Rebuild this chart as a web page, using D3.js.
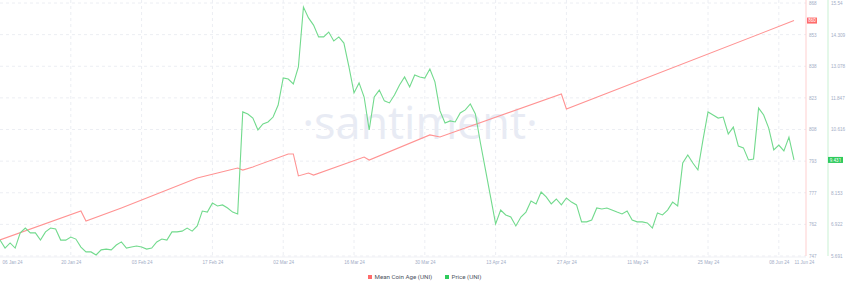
<!DOCTYPE html>
<html>
<head>
<meta charset="utf-8">
<script src="https://cdn.jsdelivr.net/npm/d3@7"></script>
<style>
  body { margin: 0; background: #fff; }
  svg { display: block; font-family: Roboto, "Open Sans", sans-serif; }
</style>
</head>
<body>
<div id="chart"></div>
<script>
// mean coin age (UNI): dates where the line changes direction
var ageDates = ["2024-01-06", "2024-01-22", "2024-01-23", "2024-01-30", "2024-02-14", "2024-02-18",
                "2024-02-22", "2024-02-23", "2024-02-25", "2024-03-03", "2024-03-04", "2024-03-05",
                "2024-03-07", "2024-03-08", "2024-03-18", "2024-03-19", "2024-03-31", "2024-04-02",
                "2024-04-26", "2024-04-27", "2024-06-11"];
var ageValues = [754.7, 768.5, 763.7, 770.0, 784.3, 786.7,
                 789.1, 788.1, 789.6, 795.8, 795.8, 785.3,
                 786.7, 785.7, 794.3, 792.9, 804.9, 803.9,
                 824.5, 817.3, 859.6];

// price (UNI), one value per day from 06 Jan 24 to 11 Jun 24
var priceStart = "2024-01-06";
var priceValues = [
  6.31, 6.00, 6.20, 6.00, 6.59, 6.78, 6.59, 6.59, 6.31, 6.63,
  6.78, 6.74, 6.31, 6.31, 6.43, 6.35, 6.04, 5.85, 5.85, 5.73,
  5.93, 5.96, 5.93, 6.12, 6.24, 6.00, 6.04, 6.08, 6.04, 5.96,
  6.00, 6.24, 6.35, 6.31, 6.63, 6.63, 6.66, 6.78, 6.66, 6.86,
  7.44, 7.40, 7.75, 7.64, 7.68, 7.56, 7.40, 7.33, 11.30, 11.22,
  11.06, 10.60, 10.83, 10.91, 11.10, 11.57, 12.62, 12.58, 12.39, 13.05,
  15.38, 14.96, 14.68, 14.22, 14.22, 14.41, 14.06, 14.22, 13.98, 13.05,
  12.04, 12.43, 11.88, 10.60, 11.88, 12.15, 11.73, 11.65, 11.96, 12.35,
  12.66, 12.27, 12.74, 12.66, 12.62, 12.97, 12.47, 11.34, 10.87, 10.95,
  10.91, 11.26, 11.38, 11.61, 11.22, 10.09, 9.04, 7.99, 6.94, 7.48,
  7.29, 7.21, 6.86, 7.21, 7.40, 7.83, 7.72, 8.18, 7.99, 7.72,
  7.91, 7.68, 7.95, 7.79, 7.68, 7.02, 7.02, 7.09, 7.56, 7.52,
  7.56, 7.48, 7.40, 7.33, 7.44, 7.09, 7.02, 7.02, 6.98, 6.78,
  7.37, 7.29, 7.48, 7.79, 7.64, 9.31, 9.62, 9.31, 9.04, 10.21,
  11.30, 11.18, 11.06, 11.10, 10.44, 10.71, 9.97, 9.90, 9.43, 9.47,
  11.45, 11.18, 10.67, 9.82, 10.01, 9.78, 10.32, 9.431
];

var dateTicks = ["2024-01-06", "2024-01-20", "2024-02-03", "2024-02-17", "2024-03-02", "2024-03-16",
                 "2024-03-30", "2024-04-13", "2024-04-27", "2024-05-11", "2024-05-25", "2024-06-08",
                 "2024-06-11"];
var ageTickLabels = ["747", "762", "777", "793", "808", "823", "838", "853", "868"];
var priceTickLabels = ["5.691", "6.922", "8.153", "9.385", "10.616", "11.847", "13.078", "14.309", "15.54"];
var ageLast = "860", priceLast = "9.431";
var seriesNames = ["Mean Coin Age (UNI)", "Price (UNI)"];

var width = 850, height = 288,
    plotRight = 794,
    ageAxisX = 806, priceAxisX = 828,
    plotTop = 3, plotBottom = 256,
    redLine = "#ff9393", greenLine = "#72da8d",
    redSolid = "#ff6b6b", greenSolid = "#2fcb5c",
    tickColor = "#a3adc6";

var parse = d3.utcParse("%Y-%m-%d"),
    fmt = d3.utcFormat("%d %b %y");

var ageData = ageDates.map(function (d, i) { return {date: parse(d), value: ageValues[i]}; });
var priceData = priceValues.map(function (v, i) {
  return {date: d3.utcDay.offset(parse(priceStart), i), value: v};
});

var x = d3.scaleUtc()
    .domain([parse("2024-01-06"), parse("2024-06-11")])
    .range([0, plotRight]);

var yAge = d3.scaleLinear().domain([747, 868]).range([plotBottom, plotTop]);
var yPrice = d3.scaleLinear().domain([5.691, 15.54]).range([plotBottom, plotTop]);

var ageTicks = ageTickLabels.map(function (t, i) { return 747 + i * (868 - 747) / 8; });
var priceTicks = priceTickLabels.map(function (t, i) { return 5.691 + i * (15.54 - 5.691) / 8; });

var svg = d3.select("#chart").append("svg")
    .attr("width", width)
    .attr("height", height);

// watermark
svg.append("text")
    .attr("x", 420)
    .attr("y", 139)
    .attr("text-anchor", "middle")
    .attr("fill", "#e8ebf4")
    .style("font-size", "45px")
    .style("font-family", "'Open Sans', sans-serif")
    .text("·santiment·");

// grid
svg.append("g").selectAll("line.hgrid")
  .data(ageTicks)
  .enter().append("line")
    .attr("class", "hgrid")
    .attr("x1", 0)
    .attr("x2", ageAxisX)
    .attr("y1", function (d) { return yAge(d); })
    .attr("y2", function (d) { return yAge(d); })
    .style("stroke", "#eceef3")
    .style("stroke-dasharray", "3,3");

svg.append("g").selectAll("line.vgrid")
  .data(dateTicks.slice(1, -1))
  .enter().append("line")
    .attr("class", "vgrid")
    .attr("x1", function (d) { return x(parse(d)); })
    .attr("x2", function (d) { return x(parse(d)); })
    .attr("y1", 0)
    .attr("y2", plotBottom)
    .style("stroke", "#eceef3")
    .style("stroke-dasharray", "3,3");

svg.append("line")
    .attr("x1", 0).attr("x2", ageAxisX)
    .attr("y1", plotBottom + 1).attr("y2", plotBottom + 1)
    .style("stroke", "#f0f1f5");

// x axis labels
var xAxis = svg.append("g")
    .attr("transform", "translate(0," + plotBottom + ")")
    .call(d3.axisBottom(x).tickValues(dateTicks.map(parse)).tickFormat(fmt).tickSize(0).tickPadding(5));
xAxis.select(".domain").remove();
xAxis.selectAll("text")
    .attr("fill", tickColor)
    .style("font-size", "4.6px")
    .attr("text-anchor", function (d, i) {
      if (i === 0 || i === dateTicks.length - 1) return "start";
      return "middle";
    })
    .attr("dx", function (d, i) { return i === 0 ? 2 : 0; });

// right axes
var ageAxis = svg.append("g")
    .attr("transform", "translate(" + ageAxisX + ",0)")
    .call(d3.axisRight(yAge).tickValues(ageTicks)
      .tickFormat(function (d, i) { return ageTickLabels[i]; }).tickSize(0).tickPadding(3));
ageAxis.select(".domain").remove();
ageAxis.selectAll("text").attr("fill", tickColor).style("font-size", "4.6px");

var priceAxis = svg.append("g")
    .attr("transform", "translate(" + priceAxisX + ",0)")
    .call(d3.axisRight(yPrice).tickValues(priceTicks)
      .tickFormat(function (d, i) { return priceTickLabels[i]; }).tickSize(0).tickPadding(3));
priceAxis.select(".domain").remove();
priceAxis.selectAll("text").attr("fill", tickColor).style("font-size", "4.6px");

svg.append("line")
    .attr("x1", ageAxisX).attr("x2", ageAxisX)
    .attr("y1", 0).attr("y2", plotBottom)
    .style("stroke", "#ffcfcf");

svg.append("line")
    .attr("x1", priceAxisX).attr("x2", priceAxisX)
    .attr("y1", 0).attr("y2", plotBottom)
    .style("stroke", "#c9f1d3");

// series
var ageLine = d3.line()
    .x(function (d) { return x(d.date); })
    .y(function (d) { return yAge(d.value); });

var priceLine = d3.line()
    .x(function (d) { return x(d.date); })
    .y(function (d) { return yPrice(d.value); });

svg.append("path")
    .datum(ageData)
    .attr("d", ageLine)
    .style("fill", "none")
    .style("stroke", redLine)
    .style("stroke-width", 1.1);

svg.append("path")
    .datum(priceData)
    .attr("d", priceLine)
    .style("fill", "none")
    .style("stroke", greenLine)
    .style("stroke-width", 1.1);

// last value badges
var ageY = yAge(ageValues[ageValues.length - 1]);
svg.append("rect")
    .attr("x", ageAxisX + 1).attr("y", ageY - 3)
    .attr("width", 10).attr("height", 6)
    .attr("fill", redSolid);
svg.append("text")
    .attr("x", ageAxisX + 6).attr("y", ageY + 1.6)
    .attr("text-anchor", "middle")
    .attr("fill", "#fff")
    .style("font-size", "4.6px")
    .text(ageLast);

var priceY = yPrice(priceValues[priceValues.length - 1]);
svg.append("rect")
    .attr("x", priceAxisX).attr("y", priceY - 3)
    .attr("width", 15).attr("height", 6)
    .attr("fill", greenSolid);
svg.append("text")
    .attr("x", priceAxisX + 7.5).attr("y", priceY + 1.6)
    .attr("text-anchor", "middle")
    .attr("fill", "#fff")
    .style("font-size", "4.6px")
    .text(priceLast);

// legend
var legend = svg.append("g").attr("transform", "translate(0,277)");
var legendX = [368, 445];
var legendColors = [redSolid, greenSolid];
legend.selectAll("rect")
  .data(seriesNames)
  .enter().append("rect")
    .attr("x", function (d, i) { return legendX[i]; })
    .attr("y", -2)
    .attr("width", 4)
    .attr("height", 4)
    .attr("fill", function (d, i) { return legendColors[i]; });
legend.selectAll("text")
  .data(seriesNames)
  .enter().append("text")
    .attr("x", function (d, i) { return legendX[i] + 6.5; })
    .attr("y", 2.2)
    .attr("fill", "#4f5463")
    .style("font-size", "6.2px")
    .text(function (d) { return d; });
</script>
</body>
</html>
